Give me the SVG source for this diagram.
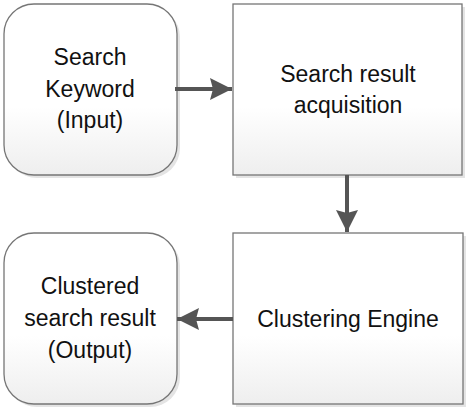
<svg xmlns="http://www.w3.org/2000/svg" width="474" height="417" viewBox="0 0 474 417">
<style>
.box{stroke:#767676;stroke-width:1.3;fill:url(#g)}
.sh{fill:#e4e4e4}
.t{font-family:"Liberation Sans",Arial,sans-serif;font-size:23px;fill:#111;text-anchor:middle}
.c{stroke:#555;stroke-width:4;fill:none}
</style>
<defs>
<linearGradient id="g" x1="0" y1="0" x2="0" y2="1">
<stop offset="0" stop-color="#ffffff"/>
<stop offset="0.6" stop-color="#ffffff"/>
<stop offset="1" stop-color="#eeeeee"/>
</linearGradient>
<marker id="a" markerWidth="24" markerHeight="24" refX="22" refY="11" orient="auto" markerUnits="userSpaceOnUse">
<path d="M0,0 L22,11 L0,22 L3,11 Z" fill="#555"/>
</marker>
</defs>
<g id="n1">
<rect class="sh" x="7" y="7" width="173" height="171" rx="30"/>
<rect class="box" x="4" y="4" width="173" height="171" rx="30"/>
<text class="t" x="90" y="65">Search</text>
<text class="t" x="90" y="97">Keyword</text>
<text class="t" x="90" y="128">(Input)</text>
</g>
<g id="n2">
<rect class="sh" x="236" y="7" width="229" height="171"/>
<rect class="box" x="233" y="4" width="229" height="171"/>
<text class="t" x="348" y="82">Search result</text>
<text class="t" x="348" y="113">acquisition</text>
</g>
<g id="n3">
<rect class="sh" x="236" y="236" width="230" height="171"/>
<rect class="box" x="233" y="233" width="230" height="171"/>
<text class="t" x="348" y="327">Clustering Engine</text>
</g>
<g id="n4">
<rect class="sh" x="7" y="236" width="173" height="171" rx="30"/>
<rect class="box" x="4" y="233" width="173" height="171" rx="30"/>
<text class="t" x="90" y="294">Clustered</text>
<text class="t" x="90" y="326">search result</text>
<text class="t" x="90" y="358">(Output)</text>
</g>
<g id="connectors">
<line class="c" x1="175" y1="89" x2="232" y2="89" marker-end="url(#a)"/>
<line class="c" x1="347" y1="175" x2="347" y2="232" marker-end="url(#a)"/>
<line class="c" x1="233" y1="319" x2="177" y2="319" marker-end="url(#a)"/>
</g>
</svg>
